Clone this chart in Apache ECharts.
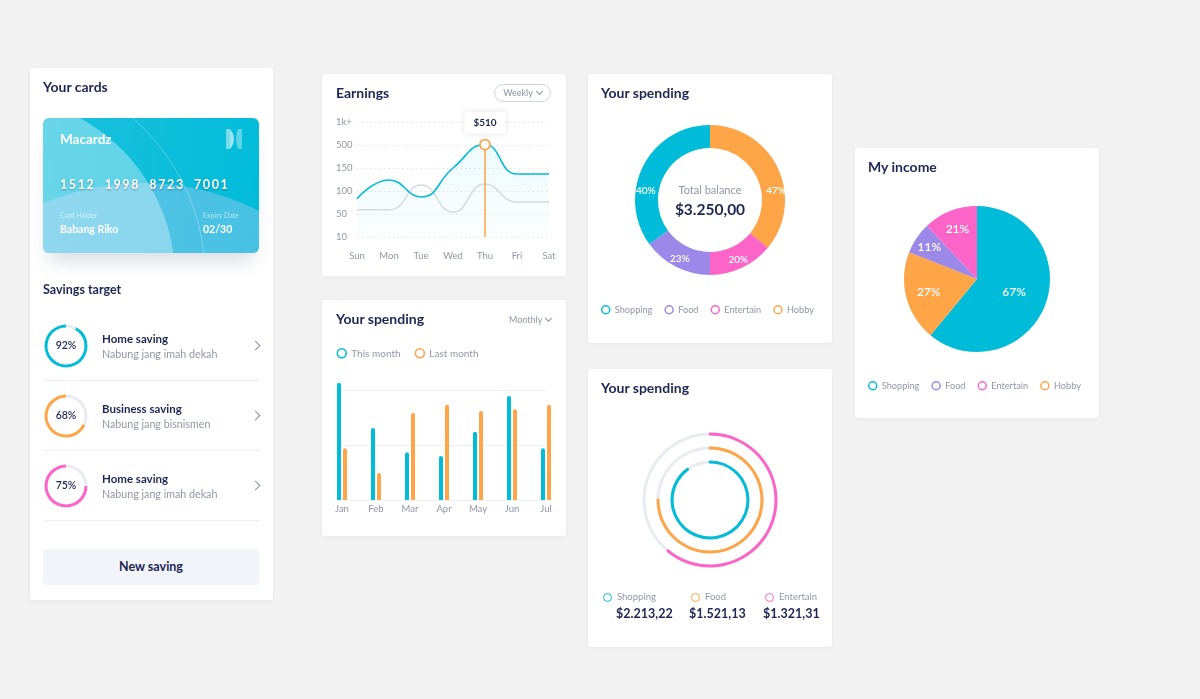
<!DOCTYPE html>
<html>
<head>
<meta charset="utf-8">
<title>Wallet dashboard</title>
<script src="https://cdn.jsdelivr.net/npm/echarts/dist/echarts.min.js"></script>
<style>
  html, body { margin: 0; padding: 0; }
  body {
    width: 1200px; height: 699px; position: relative; overflow: hidden;
    background: #f2f2f2; font-family: 'Lato', 'Noto Sans', sans-serif; color: #1d2754;
  }
  .card { position: absolute; background: #fff; border-radius: 3px; box-shadow: 0 1px 4px rgba(30, 40, 80, 0.05); }
  .chart { position: absolute; left: 0; top: 0; width: 100%; height: 100%; }
  .t { position: absolute; white-space: nowrap; line-height: 16px; z-index: 2; }
  .title { font-size: 14px; font-weight: 700; color: #1d2754; }
  .muted { color: #9197a8; }
  .chev-r { position: absolute; width: 6px; height: 6px; border-top: 1.3px solid #8a90a2; border-right: 1.3px solid #8a90a2; transform: rotate(45deg); }
  .chev-d { display: inline-block; width: 4px; height: 4px; border-right: 1px solid #8a90a2; border-bottom: 1px solid #8a90a2; transform: rotate(45deg); margin-left: 4px; position: relative; top: -2px; }
  .sep { position: absolute; left: 15px; width: 214px; border-top: 1px dotted #dde1e8; }
  .dot { position: absolute; width: 9px; height: 9px; box-sizing: border-box; border-radius: 50%; border: 1.6px solid; }

  /* credit card */
  .ccard {
    position: absolute; left: 13px; top: 50px; width: 216px; height: 135px; border-radius: 6px; overflow: hidden;
    background: linear-gradient(100deg, #1cc0dd 0%, #00bcd9 100%);
    box-shadow: 0 14px 18px -6px rgba(40, 60, 90, 0.18);
  }
  .blob { position: absolute; border-radius: 50%; }
  .blob.a { left: -232px; top: -22px; width: 364px; height: 364px; background: rgba(255, 255, 255, 0.34); }
  .blob.b { left: -155px; top: 65px; width: 510px; height: 510px; background: rgba(170, 200, 240, 0.42); }
  .blob.c { left: -263px; top: -53px; width: 426px; height: 426px; border: 1px solid rgba(255, 255, 255, 0.28); box-sizing: border-box; }
  .ccard .t { color: #fff; }
  .num { font-size: 12.5px; font-weight: 700; letter-spacing: 1.6px; text-shadow: 0 1px 2px rgba(0, 40, 70, 0.35); }
  .btn { position: absolute; left: 13px; top: 481px; width: 216px; height: 36px; background: #f1f4f8; border-radius: 3px;
    font-size: 12.5px; font-weight: 700; line-height: 36px; text-align: center; color: #1d2754; }
  .pill { position: absolute; left: 172px; top: 10px; width: 57px; height: 18px; box-sizing: border-box; border: 1px solid #cfd4dc;
    border-radius: 10px; font-size: 9px; line-height: 16px; text-align: center; color: #8a90a2; }
</style>
</head>
<body>

<div class="card" id="cardsCard" style="left:30px; top:68px; width:243px; height:532px;">
  <div class="chart" id="savingsChart"></div>
  <div class="t title" style="left:13px; top:11px;">Your cards</div>
  <div class="ccard">
    <div class="blob b"></div>
    <div class="blob a"></div>
    <div class="blob c"></div>
    <svg style="position:absolute; left:182px; top:10px;" width="18" height="22" viewBox="0 0 18 22">
      <path d="M1 1 L5 1 L5 21 L1 21 Z" fill="rgba(255,255,255,0.45)"/>
      <path d="M5 1 Q13 11 5 21 L5 1 Z" fill="rgba(255,255,255,0.6)"/>
      <path d="M13 1 L17 1 L17 21 L13 21 Q9 11 13 1 Z" fill="rgba(255,255,255,0.35)"/>
    </svg>
    <div class="t" style="left:17px; top:13px; font-size:13.5px; font-weight:700;">Macardz</div>
    <div class="t num" style="left:17px; top:59px;">1512&nbsp;&nbsp;1998&nbsp;&nbsp;8723&nbsp;&nbsp;7001</div>
    <div class="t" style="left:17px; top:89px; font-size:7px; opacity:0.6;">Card Holder</div>
    <div class="t" style="left:17px; top:103px; font-size:10.5px; font-weight:700;">Babang Riko</div>
    <div class="t" style="left:160px; top:89px; font-size:7px; opacity:0.6;">Expiry Date</div>
    <div class="t" style="left:160px; top:103px; font-size:10.5px; font-weight:700;">02/30</div>
  </div>
  <div class="t title" style="left:13px; top:214px; font-size:12.5px;">Savings target</div>
  <div id="savingRows"></div>
  <div class="btn">New saving</div>
</div>

<div class="card" style="left:322px; top:74px; width:244px; height:202px;">
  <div class="chart" id="earningsChart"></div>
  <div class="t title" style="left:14px; top:11px;">Earnings</div>
  <div class="pill">Weekly<span class="chev-d"></span></div>
</div>

<div class="card" style="left:322px; top:300px; width:244px; height:236px;">
  <div class="chart" id="monthlyChart"></div>
  <div class="t title" style="left:14px; top:11px;">Your spending</div>
  <div class="t muted" style="left:187px; top:12px; font-size:9px;">Monthly<span class="chev-d"></span></div>
</div>

<div class="card" style="left:588px; top:74px; width:244px; height:269px;">
  <div class="chart" id="donutChart"></div>
  <div class="t title" style="left:13px; top:11px;">Your spending</div>
  <div class="t muted" style="left:0; width:244px; text-align:center; top:108px; font-size:11px;">Total balance</div>
  <div class="t" style="left:0; width:244px; text-align:center; top:127px; font-size:15.5px; font-weight:700;">$3.250,00</div>
</div>

<div class="card" style="left:588px; top:369px; width:244px; height:278px;">
  <div class="chart" id="ringsChart"></div>
  <div class="t title" style="left:13px; top:11px;">Your spending</div>
  <div id="ringLegend"></div>
</div>

<div class="card" style="left:855px; top:148px; width:244px; height:270px;">
  <div class="chart" id="incomeChart"></div>
  <div class="t title" style="left:13px; top:11px;">My income</div>
</div>

<script>
// ---- data ----
const savingNames = ['Home saving', 'Business saving', 'Home saving'];
const savingNotes = ['Nabung jang imah dekah', 'Nabung jang bisnismen', 'Nabung jang imah dekah'];
const savingPct = [92, 68, 75];

const weekDays = ['Sun', 'Mon', 'Tue', 'Wed', 'Thu', 'Fri', 'Sat'];
const earnLevels = [10, 50, 100, 150, 500, 1000];
const earnLevelLabels = ['10', '50', '100', '150', '500', '1k+'];
const earnThisWeek = [83, 124, 87, 150, 510, 137, 137];
const earnLastWeek = [59, 59, 113, 54, 115, 76, 76];
const earnPeakDay = 'Thu';

const months = ['Jan', 'Feb', 'Mar', 'Apr', 'May', 'Jun', 'Jul'];
const spendThisMonth = [213, 131, 87, 80, 124, 189, 94];
const spendLastMonth = [94, 49, 158, 173, 162, 165, 173];

const spendCats = ['Shopping', 'Food', 'Entertain', 'Hobby'];
// clockwise from 12 o'clock
const spendOrder = ['Hobby', 'Entertain', 'Food', 'Shopping'];
const spendShare = [36, 14, 15, 35];
const spendLabels = ['47%', '20%', '23%', '40%'];

const ringCats = ['Shopping', 'Food', 'Entertain'];
const ringProgress = [90, 75, 61];
const ringAmounts = ['$2.213,22', '$1.521,13', '$1.321,31'];

const incomeOrder = ['Shopping', 'Hobby', 'Food', 'Entertain'];
const incomeShare = [61, 20, 7, 12];
const incomeLabels = ['67%', '27%', '11%', '21%'];

// ---- styles ----
const CYAN = '#00bcd8', PURPLE = '#9b88e8', PINK = '#fc64c8', ORANGE = '#fea548';
const catColor = { Shopping: CYAN, Food: PURPLE, Entertain: PINK, Hobby: ORANGE };
const savingColors = [CYAN, ORANGE, PINK];
const ringColors = [CYAN, ORANGE, PINK];
const NAVY = '#1d2754', GREY = '#9197a8', TRACK = '#e8ebf1';
const FONT = 'Lato';

function mk(id, option) {
  const c = echarts.init(document.getElementById(id), null, { renderer: 'canvas' });
  c.setOption(Object.assign({ animation: false, textStyle: { fontFamily: FONT } }, option));
  return c;
}

// savings rows (text)
const rows = document.getElementById('savingRows');
savingNames.forEach((name, i) => {
  const y = 278 + 70 * i;
  rows.insertAdjacentHTML('beforeend',
    '<div class="t" style="left:72px; top:' + (y - 15) + 'px; font-size:11.5px; font-weight:700;">' + name + '</div>' +
    '<div class="t muted" style="left:72px; top:' + y + 'px; font-size:10.7px;">' + savingNotes[i] + '</div>' +
    '<div class="chev-r" style="left:222px; top:' + (y - 4) + 'px;"></div>' +
    '<div class="sep" style="top:' + (y + 34) + 'px;"></div>');
});

mk('savingsChart', {
  series: savingPct.map((p, i) => ({
    type: 'pie', silent: true, center: [36, 278 + 70 * i], radius: [18.5, 21.5],
    startAngle: 90, clockwise: false, label: { show: false }, labelLine: { show: false },
    itemStyle: { borderWidth: 0 },
    data: [
      { value: p, itemStyle: { color: savingColors[i] },
        label: { show: true, position: 'center', formatter: '{c}%', fontSize: 10.5, fontWeight: 600, color: NAVY } },
      { value: 100 - p, itemStyle: { color: TRACK } }
    ]
  }))
});

// earnings: the y axis is evenly spaced between uneven levels
function toLevel(v) {
  for (let i = 0; i < earnLevels.length - 1; i++) {
    if (v <= earnLevels[i + 1]) return i + (v - earnLevels[i]) / (earnLevels[i + 1] - earnLevels[i]);
  }
  return earnLevels.length - 1;
}
const peakIdx = weekDays.indexOf(earnPeakDay);
const peakVal = earnThisWeek[peakIdx];

mk('earningsChart', {
  grid: { left: 35, right: 17, top: 48, bottom: 39, outerBoundsMode: 'none' },
  xAxis: {
    type: 'category', boundaryGap: false, data: weekDays,
    axisLine: { show: false }, axisTick: { show: false },
    axisLabel: { color: GREY, fontSize: 9.5, margin: 14 }
  },
  yAxis: {
    type: 'value', min: 0, max: 5, interval: 1,
    axisLine: { show: false }, axisTick: { show: false },
    axisLabel: { align: 'left', margin: 21, color: GREY, fontSize: 9.5, formatter: v => earnLevelLabels[Math.round(v)] },
    splitLine: { lineStyle: { color: '#e1e4ea', type: [1.5, 3] } }
  },
  series: [
    {
      type: 'line', data: earnLastWeek.map(toLevel), smooth: 0.5, symbol: 'none', silent: true,
      lineStyle: { color: '#d5dae1', width: 1.5 }
    },
    {
      type: 'line', data: earnThisWeek.map(toLevel), smooth: 0.5, symbol: 'none', silent: true,
      lineStyle: { color: CYAN, width: 1.6 },
      areaStyle: {
        color: new echarts.graphic.LinearGradient(0, 0, 0, 1, [
          { offset: 0, color: 'rgba(0,188,216,0.10)' },
          { offset: 1, color: 'rgba(0,188,216,0.02)' }
        ])
      },
      markLine: {
        silent: true, symbol: 'none', label: { show: false },
        lineStyle: { color: ORANGE, width: 1.5, type: 'solid' },
        data: [[{ coord: [earnPeakDay, toLevel(peakVal)] }, { coord: [earnPeakDay, 0] }]]
      },
      markPoint: {
        silent: true,
        data: [{
          coord: [earnPeakDay, toLevel(peakVal)], symbol: 'circle', symbolSize: 10,
          itemStyle: { color: '#fff', borderColor: ORANGE, borderWidth: 1.8 },
          label: {
            show: true, position: 'top', distance: 5, formatter: '$' + peakVal,
            color: NAVY, fontSize: 10, fontWeight: 700, backgroundColor: '#fff',
            padding: [6, 9], borderRadius: 3, shadowColor: 'rgba(30,40,80,0.14)', shadowBlur: 6
          }
        }]
      }
    }
  ]
});

// monthly bars
mk('monthlyChart', {
  grid: { left: 20, right: 20, top: 35, bottom: 36, outerBoundsMode: 'none' },
  legend: {
    left: 9.5, top: 43, icon: 'circle', itemWidth: 9, itemHeight: 9, itemGap: 14, selectedMode: false,
    textStyle: { color: GREY, fontSize: 10 },
    data: [
      { name: 'This month', itemStyle: { color: '#fff', borderColor: CYAN, borderWidth: 1.6 } },
      { name: 'Last month', itemStyle: { color: '#fff', borderColor: ORANGE, borderWidth: 1.6 } }
    ]
  },
  xAxis: {
    type: 'category', boundaryGap: false, data: months,
    axisLine: { show: false }, axisTick: { show: false },
    axisLabel: { color: GREY, fontSize: 9.5, margin: 4 }
  },
  yAxis: {
    type: 'value', min: 0, max: 300, interval: 100,
    axisLine: { show: false }, axisTick: { show: false }, axisLabel: { show: false },
    splitLine: { showMaxLine: false, lineStyle: { color: '#eceef2' } }
  },
  series: [
    { name: 'This month', type: 'bar', data: spendThisMonth, barWidth: 4, barGap: '50%', silent: true,
      itemStyle: { color: CYAN, borderRadius: [2, 2, 0, 0] } },
    { name: 'Last month', type: 'bar', data: spendLastMonth, barWidth: 4, barGap: '50%', silent: true,
      itemStyle: { color: ORANGE, borderRadius: [2, 2, 0, 0] } }
  ]
});

// spending donut
const donutLabelOffset = [[6, 19], [0, 0], [0, 0], [-5, 21]];
const legendFor = names => names.map(n => ({ name: n, itemStyle: { color: '#fff', borderColor: catColor[n], borderWidth: 1.5 } }));
const pieLegend = {
  left: 8, top: 226, icon: 'circle', itemWidth: 8, itemHeight: 8, itemGap: 12, selectedMode: false,
  textStyle: { color: GREY, fontSize: 9.2 }, data: legendFor(spendCats)
};
mk('donutChart', {
  legend: pieLegend,
  series: [{
    type: 'pie', center: [122, 126], radius: [52, 75], startAngle: 90, clockwise: true, silent: true,
    labelLine: { show: false }, itemStyle: { borderWidth: 0 },
    label: { show: true, position: 'inside', color: '#fff', fontSize: 10, fontWeight: 600,
      formatter: p => spendLabels[p.dataIndex] },
    data: spendOrder.map((n, i) => ({ name: n, value: spendShare[i], itemStyle: { color: catColor[n] },
      label: { offset: donutLabelOffset[i] } }))
  }]
});

// progress rings
const rl = document.getElementById('ringLegend');
const ringLegendX = [19, 107, 181];
ringCats.forEach((n, i) => {
  const x = ringLegendX[i];
  rl.insertAdjacentHTML('beforeend',
    '<div class="dot" style="left:' + (x - 4.5) + 'px; top:223.5px; border-color:' + ringColors[i] + ';"></div>' +
    '<div class="t muted" style="left:' + (x + 10) + 'px; top:220px; font-size:9.5px;">' + n + '</div>' +
    '<div class="t" style="left:' + (x + 9 - (i ? 15 : 0)) + 'px; top:237px; font-size:12.5px; font-weight:700;">' + ringAmounts[i] + '</div>');
});
mk('ringsChart', {
  polar: { center: [122, 131], radius: [31, 73] },
  angleAxis: { type: 'value', min: 0, max: 100, startAngle: 90, clockwise: true, show: false },
  radiusAxis: { type: 'category', data: ringCats, show: false },
  series: [{
    type: 'bar', coordinateSystem: 'polar', silent: true, barWidth: 3, roundCap: true,
    showBackground: true, backgroundStyle: { color: TRACK },
    data: ringProgress.map((v, i) => ({ value: v, itemStyle: { color: ringColors[i] } }))
  }]
});

// income pie
const incomeLabelOffset = [[0, 0], [-10, 3], [-15, -10], [-5, -13]];
mk('incomeChart', {
  legend: Object.assign({}, pieLegend, { top: 228 }),
  series: [{
    type: 'pie', center: [122, 131], radius: [0, 73], startAngle: 90, clockwise: true, silent: true,
    labelLine: { show: false }, itemStyle: { borderWidth: 0 },
    label: { show: true, position: 'inside', color: '#fff', fontSize: 12, fontWeight: 600,
      formatter: p => incomeLabels[p.dataIndex] },
    data: incomeOrder.map((n, i) => ({ name: n, value: incomeShare[i], itemStyle: { color: catColor[n] },
      label: { offset: incomeLabelOffset[i] } }))
  }]
});
</script>
</body>
</html>
